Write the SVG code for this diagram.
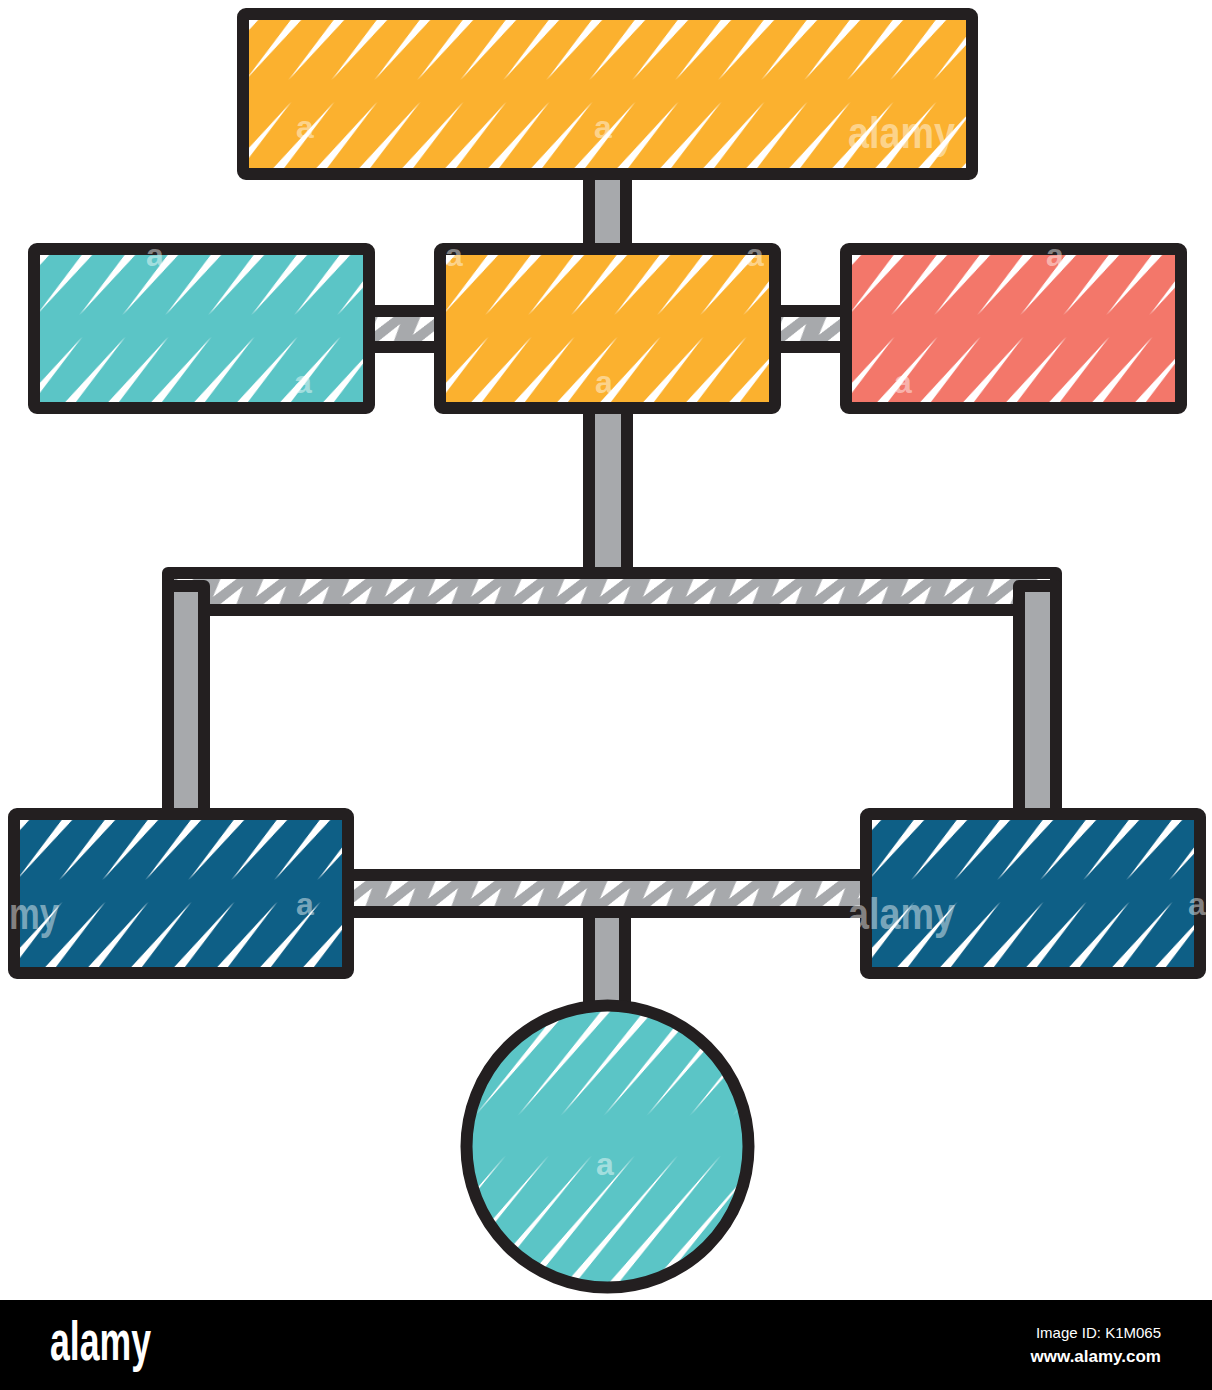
<svg xmlns="http://www.w3.org/2000/svg" width="1212" height="1390" viewBox="0 0 1212 1390">
<defs>
<pattern id="hatch" patternUnits="userSpaceOnUse" x="0" y="0" width="43" height="159" patternTransform="skewX(-40)">
<polygon points="9,-2 21,-2 15,66" fill="#ffffff"/>
<polygon points="30,161 42,161 36,88" fill="#ffffff"/>
</pattern>
<pattern id="circhatch" patternUnits="userSpaceOnUse" x="0" y="0" width="43" height="282" patternTransform="skewX(-40)">
<polygon points="10,-2 20,-2 15,110" fill="#ffffff"/>
<polygon points="31,284 41,284 36,150" fill="#ffffff"/>
</pattern>
<pattern id="barhatch" patternUnits="userSpaceOnUse" x="0" y="0" width="43" height="25" patternTransform="skewX(-40)">
<polygon points="3,-1 20,-1 11,18" fill="#ffffff"/>
<polygon points="24,26 41,26 32,7" fill="#ffffff"/>
</pattern>
<style>
.border{fill:none;stroke:#231f20;stroke-width:12;stroke-linejoin:round}
.bar{fill:#a7a9ac;stroke:#231f20;stroke-width:12;stroke-linejoin:round}
.hatch{fill:url(#hatch)}
.bh{fill:url(#barhatch)}
.wm{font-family:"Liberation Sans","Noto Sans",sans-serif;font-weight:bold;fill:#ffffff;fill-opacity:0.45}
.foot{font-family:"Liberation Sans Narrow","Liberation Sans",sans-serif;fill:#ffffff}
</style>
</defs>
<rect x="0" y="0" width="1212" height="1390" fill="#ffffff"/>

<g id="connectors">
  <rect class="bar" x="589" y="168" width="37" height="84"/>
  <rect class="bar" x="368" y="311" width="74" height="36"/>
  <g transform="translate(374,317)"><rect class="bh" width="62" height="24"/></g>
  <rect class="bar" x="774" y="311" width="74" height="36"/>
  <g transform="translate(780,317)"><rect class="bh" width="62" height="24"/></g>
  <rect class="bar" x="589" y="406" width="38" height="168"/>
  <rect class="bar" x="168" y="573" width="888" height="37"/>
  <g transform="translate(174,579)"><rect class="bh" width="876" height="25"/></g>
  <rect class="bar" x="168" y="586" width="36" height="232"/>
  <rect class="bar" x="1019" y="586" width="37" height="232"/>
  <rect class="bar" x="589" y="905" width="36" height="104"/>
  <rect class="bar" x="346" y="875" width="522" height="37"/>
  <g transform="translate(346,881)"><rect class="bh" width="522" height="25"/></g>
</g>

<g id="node-top">
  <rect x="243" y="14" width="729" height="160" fill="#fbb12f"/>
  <g transform="translate(243,14)"><rect class="hatch" width="729" height="160"/></g>
  <rect class="border" x="243" y="14" width="729" height="160" rx="3"/>
</g>
<g id="node-left">
  <rect x="34" y="249" width="335" height="159" fill="#5bc5c6"/>
  <g transform="translate(34,249)"><rect class="hatch" width="335" height="159"/></g>
  <rect class="border" x="34" y="249" width="335" height="159" rx="3"/>
</g>
<g id="node-mid">
  <rect x="440" y="249" width="335" height="159" fill="#fbb12f"/>
  <g transform="translate(440,249)"><rect class="hatch" width="335" height="159"/></g>
  <rect class="border" x="440" y="249" width="335" height="159" rx="3"/>
</g>
<g id="node-right">
  <rect x="846" y="249" width="335" height="159" fill="#f3776a"/>
  <g transform="translate(846,249)"><rect class="hatch" width="335" height="159"/></g>
  <rect class="border" x="846" y="249" width="335" height="159" rx="3"/>
</g>
<g id="node-bottom-left">
  <rect x="14" y="814" width="334" height="159" fill="#0e5f86"/>
  <g transform="translate(14,814)"><rect class="hatch" width="334" height="159"/></g>
  <rect class="border" x="14" y="814" width="334" height="159" rx="3"/>
</g>
<g id="node-bottom-right">
  <rect x="866" y="814" width="334" height="159" fill="#0e5f86"/>
  <g transform="translate(866,814)"><rect class="hatch" width="334" height="159"/></g>
  <rect class="border" x="866" y="814" width="334" height="159" rx="3"/>
</g>
<g id="node-circle">
  <circle cx="607.5" cy="1146.5" r="141" fill="#5bc5c6"/>
  <g transform="translate(466.5,1005.5)"><circle fill="url(#circhatch)" cx="141" cy="141" r="141"/></g>
  <circle class="border" cx="607.5" cy="1146.5" r="141"/>
</g>

<g id="watermark">
  <text class="wm" x="848" y="148" font-size="44" textLength="107" lengthAdjust="spacingAndGlyphs">alamy</text>
  <text class="wm" x="848" y="929" font-size="44" textLength="107" lengthAdjust="spacingAndGlyphs">alamy</text>
  <text class="wm" x="9" y="929" font-size="44" textLength="50" lengthAdjust="spacingAndGlyphs">my</text>
  <text class="wm" x="296" y="138" font-size="32">a</text>
  <text class="wm" x="594" y="138" font-size="32">a</text>
  <text class="wm" x="146" y="266" font-size="32">a</text>
  <text class="wm" x="445" y="266" font-size="32">a</text>
  <text class="wm" x="746" y="266" font-size="32">a</text>
  <text class="wm" x="1046" y="266" font-size="32">a</text>
  <text class="wm" x="294" y="393" font-size="32">a</text>
  <text class="wm" x="595" y="393" font-size="32">a</text>
  <text class="wm" x="894" y="393" font-size="32">a</text>
  <text class="wm" x="296" y="915" font-size="32">a</text>
  <text class="wm" x="1188" y="915" font-size="32">a</text>
  <text class="wm" x="596" y="1175" font-size="32">a</text>
</g>

<g id="footer">
  <rect x="0" y="1300" width="1212" height="90" fill="#000000"/>
  <text class="foot" x="0" y="0" font-size="46" font-weight="bold" textLength="101" lengthAdjust="spacingAndGlyphs" transform="translate(50,1360) scale(1,1.22)">alamy</text>
  <text class="foot" x="1161" y="1338" font-size="15" text-anchor="end">Image ID: K1M065</text>
  <text class="foot" x="1161" y="1362" font-size="17" font-weight="bold" text-anchor="end">www.alamy.com</text>
</g>
</svg>
